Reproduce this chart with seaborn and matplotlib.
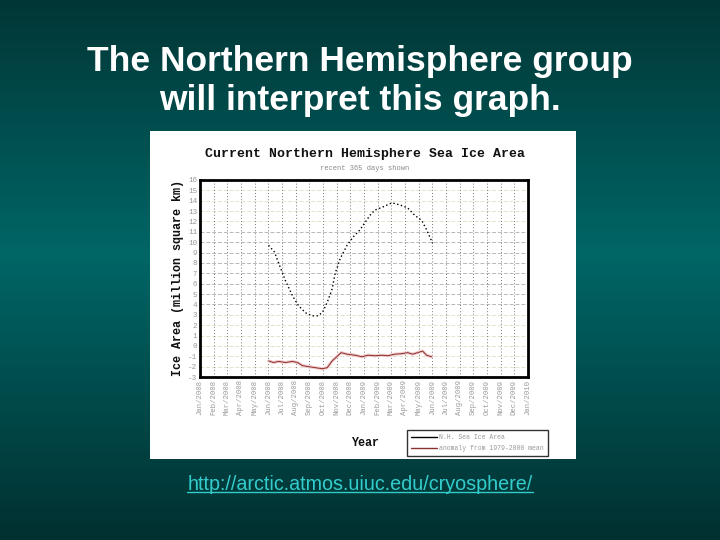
import numpy as np
import pandas as pd
import matplotlib
matplotlib.use("Agg")
import matplotlib.pyplot as plt
from matplotlib.lines import Line2D
from matplotlib.patches import Rectangle
import seaborn as sns

# month labels along the x axis (index 0 = Jan/2008)
month_labels = ["Jan/2008", "Feb/2008", "Mar/2008", "Apr/2008", "May/2008", "Jun/2008",
                "Jul/2008", "Aug/2008", "Sep/2008", "Oct/2008", "Nov/2008", "Dec/2008",
                "Jan/2009", "Feb/2009", "Mar/2009", "Apr/2009", "May/2009", "Jun/2009",
                "Jul/2009", "Aug/2009", "Sep/2009", "Oct/2009", "Nov/2009", "Dec/2009",
                "Jan/2010"]

# N.H. sea ice area (million km^2)
area_month = [5.02, 5.45, 5.75, 6.25, 6.76, 7.2, 7.71, 8.22, 8.58, 8.95, 9.31, 9.67,
              9.89, 10.18, 10.25, 10.76, 11.2, 11.71, 12.07, 12.44, 12.8, 13.38, 14.04,
              14.62, 15.2, 15.71, 16.22, 16.58, 17.02]
area_value = [9.7, 9.05, 8.0, 6.3, 4.85, 3.9, 3.2, 2.9, 2.9, 3.2, 4.2, 5.5,
              7.0, 8.1, 8.4, 9.7, 10.5, 11.2, 11.9, 12.6, 13.1, 13.4, 13.8,
              13.6, 13.3, 12.6, 12.1, 11.2, 9.9]

# anomaly from 1979-2000 mean
anom_month = [5.02, 5.38, 5.75, 6.25, 6.76, 7.13, 7.49, 7.93, 8.44, 8.95, 9.31, 9.67,
              10.04, 10.33, 10.76, 11.35, 11.85, 12.29, 12.8, 13.31, 13.75, 14.25,
              14.76, 15.2, 15.56, 15.93, 16.29, 16.58, 16.95]
anom_value = [-1.45, -1.6, -1.5, -1.6, -1.5, -1.6, -1.9, -2.0, -2.1, -2.2, -2.1, -1.45,
              -1.0, -0.65, -0.8, -0.9, -1.05, -0.9, -0.95, -0.9, -0.95, -0.8,
              -0.75, -0.65, -0.8, -0.65, -0.5, -0.9, -1.05]

W, H = 720, 540

sns.set_style("white")
fig = plt.figure(figsize=(7.2, 5.4), dpi=100)

# slide background gradient
bg = fig.add_axes([0, 0, 1, 1], zorder=-10)
bg.axis("off")
yy = np.linspace(0, 1, 256)
t = np.clip(1 - np.abs(yy - 0.47) / 0.53, 0, 1)
top = np.array([0x02, 0x30, 0x30]) / 255
mid = np.array([0x00, 0x66, 0x66]) / 255
grad = top[None, :] * (1 - t[:, None]) + mid[None, :] * t[:, None]
bg.imshow(grad[:, None, :], aspect="auto", extent=[0, 1, 0, 1], origin="upper")
bg.set_xlim(0, 1)
bg.set_ylim(0, 1)

def fx(px):
    return px / W

def fy(py):
    return 1 - py / H

# white chart panel
fig.patches.append(Rectangle((fx(150), fy(459)), 426 / W, 328 / H,
                             transform=fig.transFigure, facecolor="white",
                             edgecolor="none", zorder=-5))

mono = "Liberation Mono"

ax = fig.add_axes([fx(200), fy(377), 328 / W, 197 / H])
df_area = pd.DataFrame({"month": area_month, "value": area_value})
df_anom = pd.DataFrame({"month": anom_month, "value": anom_value})
sns.lineplot(data=df_area, x="month", y="value", ax=ax, color="black",
             lw=1.0, linestyle=(0, (1, 1.8)), zorder=5)
sns.lineplot(data=df_anom, x="month", y="value", ax=ax, color="#f0c8c8",
             lw=2.2, zorder=4)
sns.lineplot(data=df_anom, x="month", y="value", ax=ax, color="#8a3030",
             lw=0.7, zorder=5)

ax.set_xlim(0, 24)
ax.set_ylim(-3, 16)
ax.set_xticks(range(len(month_labels)))
ax.set_xticklabels(month_labels, rotation=90, fontsize=5.2, color="#999999",
                   family=mono)
ax.set_yticks(range(-3, 17))
ax.set_yticklabels([str(v) for v in range(-3, 17)], fontsize=5.5,
                   color="#999999", family=mono)
ax.tick_params(length=0, pad=2)
for v in range(-2, 16):
    c = "#b8b8b8" if 4 <= v <= 11 else "#e4e4cc"
    ax.axhline(v, color=c, lw=0.7, ls=(0, (4, 2)), zorder=1)
for m in range(1, 24):
    ax.axvline(m, color="#777777", lw=0.7, ls=(0, (1, 2.2)), zorder=2)
for s in ax.spines.values():
    s.set_linewidth(2)
    s.set_color("black")
ax.set_xlabel("")
ax.set_ylabel("")

fig.text(fx(365), fy(154), "Current Northern Hemisphere Sea Ice Area",
         ha="center", va="center", fontsize=9.5, fontweight="bold",
         family=mono, color="#111111")
fig.text(fx(365), fy(169), "recent 365 days shown", ha="center", va="center",
         fontsize=5, family=mono, color="#888888")
fig.text(fx(178), fy(278), "Ice Area (million square km)", rotation=90,
         ha="center", va="center", fontsize=8.5, fontweight="bold",
         family=mono, color="#111111")
fig.text(fx(365), fy(443), "Year", ha="center", va="center", fontsize=8.5,
         fontweight="bold", family=mono, color="#111111")

handles = [Line2D([], [], color="black", lw=1),
           Line2D([], [], color="#8a3030", lw=1)]
leg = fig.legend(handles, ["N.H. Sea Ice Area", "anomaly from 1979-2000 mean"],
                 loc="upper left", bbox_to_anchor=(fx(407), fy(430)),
                 prop={"family": mono, "size": 4.7}, frameon=True,
                 fancybox=False, handlelength=4, handletextpad=0.3,
                 borderpad=0.6, labelspacing=0.7, borderaxespad=0)
leg.get_frame().set_edgecolor("black")
leg.get_frame().set_linewidth(1)
for txt in leg.get_texts():
    txt.set_color("#999999")

# slide title
fig.text(0.5, fy(81), "The Northern Hemisphere group\nwill interpret this graph.",
         ha="center", va="center", fontsize=25.5, fontweight="bold",
         family="Liberation Sans", color="white", linespacing=1.2)

url = fig.text(0.5, fy(484), "http://arctic.atmos.uiuc.edu/cryosphere/",
               ha="center", va="center", fontsize=14.2,
               family="Liberation Sans", color="#33cccc")
fig.canvas.draw()
bb = url.get_window_extent().transformed(fig.transFigure.inverted())
fig.lines.append(Line2D([bb.x0, bb.x1], [bb.y0 + 0.002, bb.y0 + 0.002],
                        transform=fig.transFigure, color="#33cccc", lw=1))

fig.savefig("out.png", dpi=100)
